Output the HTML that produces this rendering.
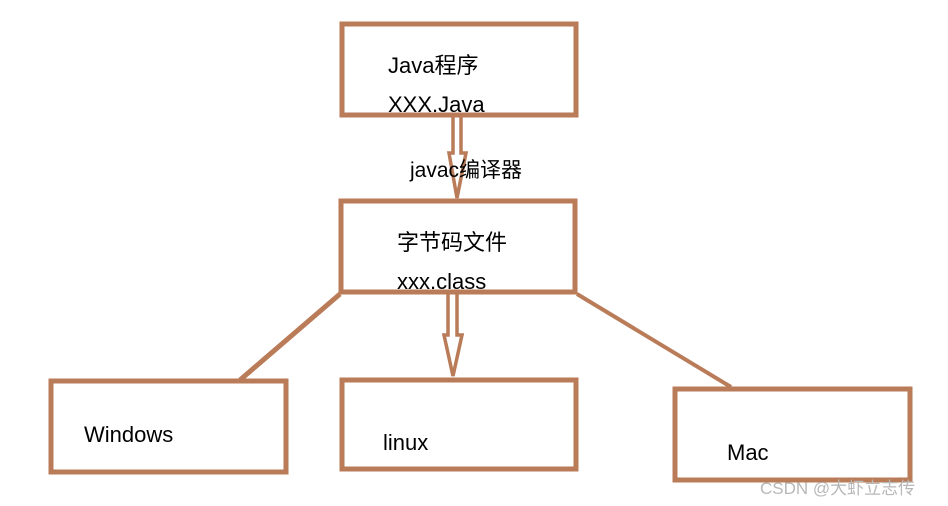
<!DOCTYPE html>
<html><head><meta charset="utf-8"><style>
html,body{margin:0;padding:0;background:#fff;}
svg{display:block;}
text{font-family:"Liberation Sans","Noto Sans CJK SC",sans-serif;font-size:22px;fill:#000;}
</style></head><body>
<svg width="948" height="506" viewBox="0 0 948 506" xmlns="http://www.w3.org/2000/svg">
<g fill="none" stroke="#b97b58" stroke-width="5">
<rect x="342" y="24" width="234" height="91"/>
<rect x="341" y="201" width="234" height="91"/>
<rect x="51" y="381" width="235" height="91"/>
<rect x="342" y="380" width="234" height="89"/>
<rect x="675" y="389" width="235" height="91"/>
<line x1="340" y1="294" x2="240" y2="380"/>
<line x1="577" y1="294" x2="731" y2="387" stroke-width="4"/>
</g>
<g fill="none" stroke="#b97b58" stroke-width="3.5" stroke-linejoin="miter">
<polyline points="453,116 453,153 449,153 457,198 466,153 461,153 461,116"/>
<polyline points="448,294 448,335 444,335 453,376 462,335 457,335 457,294"/>
</g>
<text x="388" y="73">Java程序</text>
<text x="388" y="112">XXX.Java</text>
<text x="410" y="177" style="font-size:21px">javac编译器</text>
<text x="397" y="250">字节码文件</text>
<text x="397" y="289">xxx.class</text>
<text x="84" y="442">Windows</text>
<text x="383" y="450">linux</text>
<text x="727" y="460">Mac</text>
<text x="760" y="494" style="font-size:17px;fill:#b8b8b8">CSDN @大虾立志传</text>
</svg>
</body></html>
